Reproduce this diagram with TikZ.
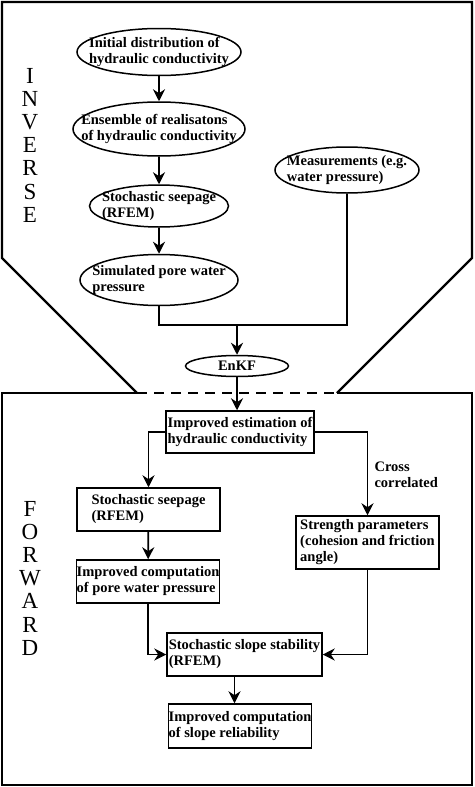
\documentclass[tikz,border=0pt]{standalone}
\usepackage{fontspec}
\setmainfont{Liberation Serif}
\usetikzlibrary{shapes.geometric,arrows.meta}

\begin{document}
\begin{tikzpicture}[x=1pt,y=-1pt]
	\tikzstyle{oval} = [ellipse, draw, line width=1.5pt, inner sep=-2cm, align=left, font=\bfseries\fontsize{14.5}{16}\selectfont]
	\tikzstyle{box} = [rectangle, draw, line width=1.5pt, inner sep=0pt, align=left, font=\bfseries\fontsize{14.5}{16}\selectfont]
	\tikzstyle{flow} = [line width=1.8pt, -{Stealth[length=12pt,width=12pt,inset=4pt]}]
	\tikzstyle{side} = [anchor=base, font=\fontsize{23}{23}\selectfont]
	\tikzstyle{frame} = [line width=2.4pt]

	\useasboundingbox (0,0) rectangle (474,787);

	% outline of the two parts
	\draw[frame] (137,393) -- (2,258) -- (2,2) -- (472,2) -- (472,258) -- (337,393);
	\draw[frame] (137,393) -- (2,393) -- (2,785) -- (472,785) -- (472,393) -- (337,393);
	\draw[frame, dash pattern=on 10pt off 7pt] (137,393) -- (337,393);

	\foreach \ch [count=\i] in {I,N,V,E,R,S,E}
		\node[side] (inv\i) at (30,59.8+23.2*\i) {\ch};
	\foreach \ch [count=\i] in {F,O,R,W,A,R,D}
		\node[side] (fwd\i) at (30,492.8+23.2*\i) {\ch};

	% inverse part
	\node[oval, minimum width=164pt, minimum height=47pt] (init) at (159,52) {Initial distribution of\\hydraulic conductivity};
	\node[oval, minimum width=172pt, minimum height=54pt] (ens) at (159,129) {Ensemble of realisatons\\of hydraulic conductivity};
	\node[oval, minimum width=139pt, minimum height=42pt] (seep) at (159,206) {Stochastic seepage\\(RFEM)};
	\node[oval, minimum width=158pt, minimum height=51pt] (sim) at (159,280) {Simulated pore water\\pressure};
	\node[oval, minimum width=144pt, minimum height=46pt] (meas) at (347,170) {Measurements (e.g.\\water pressure)};
	\node[oval, minimum width=103pt, minimum height=21pt] (enkf) at (237,366) {EnKF};
	\coordinate (merge) at (237,325);

	\draw[flow] (init) -- (ens);
	\draw[flow] (ens) -- (seep);
	\draw[flow] (seep) -- (sim);
	\draw[line width=1.8pt] (sim.south) |- (merge) -| (meas.south);
	\draw[flow] (merge) -- (enkf.north);

	% forward part
	\node[box, minimum width=148pt, minimum height=42pt] (est) at (240,432) {Improved estimation of\\hydraulic conductivity};
	\node[box, minimum width=143pt, minimum height=43pt] (seep2) at (148.5,509.5) {Stochastic seepage\\(RFEM)};
	\node[box, minimum width=142pt, minimum height=43pt] (pore) at (148,581.5) {Improved computation\\of pore water pressure};
	\node[box, minimum width=143pt, minimum height=53pt] (str) at (367.5,542.5) {Strength parameters\\(cohesion and friction\\angle)};
	\node[box, minimum width=155pt, minimum height=43pt] (slope) at (244.5,654.5) {Stochastic slope stability\\(RFEM)};
	\node[box, minimum width=142pt, minimum height=44pt] (rel) at (240,726) {Improved computation\\of slope reliability};
	\node[anchor=west, align=left, font=\bfseries\fontsize{14.5}{16}\selectfont] (cross) at (371,475) {Cross\\correlated};

	\draw[flow] (enkf) -- (enkf |- est.north);
	\draw[flow] (est.west) -| (seep2.north);
	\draw[flow] (est.east) -| (str.north);
	\draw[flow] (seep2) -- (pore);
	\draw[flow] (pore.south) |- (slope.west);
	\draw[flow] (str.south) |- (slope.east);
	\draw[flow] ([xshift=-10pt]slope.south) -- ([xshift=-10pt]slope.south |- rel.north);
\end{tikzpicture}
\end{document}
